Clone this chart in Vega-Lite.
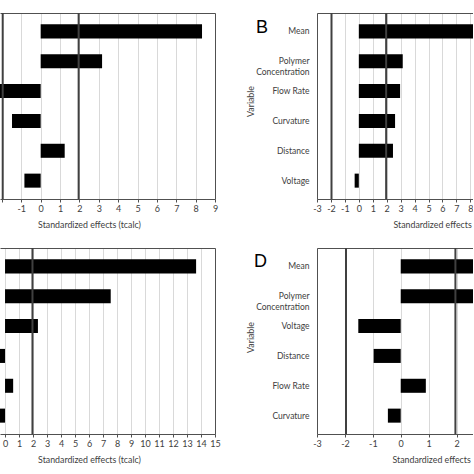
{
  "$schema": "https://vega.github.io/schema/vega-lite/v6.json",
  "background": "white",
  "padding": {"left": 0, "top": 13, "right": 0, "bottom": 2},
  "datasets": {
    "effects": [
      {"panel": "A", "variable": "Mean", "effect": 8.33},
      {"panel": "A", "variable": "Polymer Concentration", "effect": 3.17},
      {"panel": "A", "variable": "Voltage", "effect": -2.4},
      {"panel": "A", "variable": "Distance", "effect": -1.48},
      {"panel": "A", "variable": "Flow Rate", "effect": 1.24},
      {"panel": "A", "variable": "Curvature", "effect": -0.84},
      {"panel": "B", "variable": "Mean", "effect": 9.6},
      {"panel": "B", "variable": "Polymer Concentration", "effect": 3.15},
      {"panel": "B", "variable": "Flow Rate", "effect": 2.96},
      {"panel": "B", "variable": "Curvature", "effect": 2.6},
      {"panel": "B", "variable": "Distance", "effect": 2.45},
      {"panel": "B", "variable": "Voltage", "effect": -0.3},
      {"panel": "C", "variable": "Mean", "effect": 13.65},
      {"panel": "C", "variable": "Polymer Concentration", "effect": 7.55},
      {"panel": "C", "variable": "Voltage", "effect": 2.35},
      {"panel": "C", "variable": "Distance", "effect": -1.1},
      {"panel": "C", "variable": "Flow Rate", "effect": 0.58},
      {"panel": "C", "variable": "Curvature", "effect": -0.9},
      {"panel": "D", "variable": "Mean", "effect": 5.2},
      {"panel": "D", "variable": "Polymer Concentration", "effect": 4.1},
      {"panel": "D", "variable": "Voltage", "effect": -1.52},
      {"panel": "D", "variable": "Distance", "effect": -0.97},
      {"panel": "D", "variable": "Flow Rate", "effect": 0.9},
      {"panel": "D", "variable": "Curvature", "effect": -0.46}
    ],
    "criticalT": [{"t": -1.96}, {"t": 1.96}]
  },
  "columns": 2,
  "bounds": "flush",
  "spacing": {"row": 49, "column": 102},
  "concat": [
    {
      "width": 215,
      "height": 186,
      "layer": [
        {
          "data": {"name": "effects"},
          "transform": [{"filter": "datum.panel === 'A'"}],
          "mark": {"type": "bar", "color": "black", "clip": true},
          "encoding": {
            "y": {"field": "variable", "type": "nominal", "sort": null,
              "scale": {"paddingInner": 0.53, "paddingOuter": 0.38},
              "axis": {"orient": "right", "labels": false, "ticks": false, "title": null}},
            "x": {"field": "effect", "type": "quantitative",
              "scale": {"domain": [-2.1, 9], "nice": false, "zero": false},
              "axis": {"values": [-2, -1, 0, 1, 2, 3, 4, 5, 6, 7, 8, 9],
                "labelExpr": "datum.value < -1.5 ? '' : '' + datum.value",
                "title": "Standardized effects (tcalc)", "titleX": 89}}
          }
        },
        {
          "data": {"name": "criticalT"},
          "mark": {"type": "rule", "color": "#404040", "strokeWidth": 2, "clip": true},
          "encoding": {
            "x": {"field": "t", "type": "quantitative",
              "axis": {"orient": "top", "labels": false, "ticks": false, "grid": false, "title": null}}
          }
        }
      ],
      "resolve": {"axis": {"x": "independent"}}
    },
    {
      "width": 156,
      "height": 186,
      "title": {"text": "B", "orient": "left", "angle": 0, "anchor": "end", "frame": "group", "offset": -34, "baseline": "top", "dy": 6},
      "layer": [
        {
          "data": {"name": "effects"},
          "transform": [{"filter": "datum.panel === 'B'"}],
          "mark": {"type": "bar", "color": "black", "clip": true},
          "encoding": {
            "y": {"field": "variable", "type": "nominal", "sort": null,
              "scale": {"paddingInner": 0.53, "paddingOuter": 0.38},
              "axis": {"orient": "left", "ticks": false, "labelPadding": 8,
                "labelExpr": "datum.label == 'Polymer Concentration' ? ['Polymer', 'Concentration'] : datum.label",
                "title": "Variable", "titleX": -67, "titleY": 88, "titleAngle": -90,
                "titleAlign": "center", "titleBaseline": "middle"}},
            "x": {"field": "effect", "type": "quantitative",
              "scale": {"domain": [-3, 8.19], "nice": false, "zero": false},
              "axis": {"values": [-3, -2, -1, 0, 1, 2, 3, 4, 5, 6, 7, 8],
                "labelExpr": "'' + datum.value",
                "title": "Standardized effects", "titleX": 76, "titleAlign": "left"}}
          }
        },
        {
          "data": {"name": "criticalT"},
          "mark": {"type": "rule", "color": "#404040", "strokeWidth": 2, "clip": true},
          "encoding": {
            "x": {"field": "t", "type": "quantitative",
              "axis": {"orient": "top", "labels": false, "ticks": false, "grid": false, "title": null}}
          }
        }
      ],
      "resolve": {"axis": {"x": "independent"}}
    },
    {
      "width": 215,
      "height": 186,
      "layer": [
        {
          "data": {"name": "effects"},
          "transform": [{"filter": "datum.panel === 'C'"}],
          "mark": {"type": "bar", "color": "black", "clip": true},
          "encoding": {
            "y": {"field": "variable", "type": "nominal", "sort": null,
              "scale": {"paddingInner": 0.53, "paddingOuter": 0.38},
              "axis": {"orient": "right", "labels": false, "ticks": false, "title": null}},
            "x": {"field": "effect", "type": "quantitative",
              "scale": {"domain": [-0.36, 15], "nice": false, "zero": false},
              "axis": {"values": [0, 1, 2, 3, 4, 5, 6, 7, 8, 9, 10, 11, 12, 13, 14, 15],
                "labelExpr": "'' + datum.value",
                "title": "Standardized effects (tcalc)", "titleX": 89}}
          }
        },
        {
          "data": {"name": "criticalT"},
          "mark": {"type": "rule", "color": "#404040", "strokeWidth": 2, "clip": true},
          "encoding": {
            "x": {"field": "t", "type": "quantitative",
              "axis": {"orient": "top", "labels": false, "ticks": false, "grid": false, "title": null}}
          }
        }
      ],
      "resolve": {"axis": {"x": "independent"}}
    },
    {
      "width": 156,
      "height": 186,
      "title": {"text": "D", "orient": "left", "angle": 0, "anchor": "end", "frame": "group", "offset": -34, "baseline": "top", "dy": 5},
      "layer": [
        {
          "data": {"name": "effects"},
          "transform": [{"filter": "datum.panel === 'D'"}],
          "mark": {"type": "bar", "color": "black", "clip": true},
          "encoding": {
            "y": {"field": "variable", "type": "nominal", "sort": null,
              "scale": {"paddingInner": 0.53, "paddingOuter": 0.38},
              "axis": {"orient": "left", "ticks": false, "labelPadding": 8,
                "labelExpr": "datum.label == 'Polymer Concentration' ? ['Polymer', 'Concentration'] : datum.label",
                "title": "Variable", "titleX": -67, "titleY": 89, "titleAngle": -90,
                "titleAlign": "center", "titleBaseline": "middle"}},
            "x": {"field": "effect", "type": "quantitative",
              "scale": {"domain": [-3, 2.59], "nice": false, "zero": false},
              "axis": {"values": [-3, -2, -1, 0, 1, 2],
                "labelExpr": "'' + datum.value",
                "title": "Standardized effects", "titleX": 75, "titleAlign": "left"}}
          }
        },
        {
          "data": {"name": "criticalT"},
          "mark": {"type": "rule", "color": "#404040", "strokeWidth": 2, "clip": true},
          "encoding": {
            "x": {"field": "t", "type": "quantitative",
              "axis": {"orient": "top", "labels": false, "ticks": false, "grid": false, "title": null}}
          }
        }
      ],
      "resolve": {"axis": {"x": "independent"}}
    }
  ],
  "config": {
    "view": {"stroke": null},
    "font": "Lato",
    "axis": {
      "labelFont": "Lato", "labelFontSize": 8.5, "labelColor": "#404040",
      "labelFlush": false, "labelOverlap": false, "labelLineHeight": 11,
      "titleFont": "Lato", "titleFontSize": 8.8, "titleFontWeight": "normal", "titleColor": "#404040",
      "domainColor": "#505050", "domainWidth": 1,
      "tickColor": "#505050", "tickSize": 3,
      "gridColor": "#d9d9d9", "gridWidth": 1
    },
    "axisX": {"labelPadding": 2.5, "titleY": 25.5, "titleBaseline": "middle", "labelFontSize": 9},
    "title": {"font": "Liberation Sans", "fontSize": 18, "fontWeight": "normal", "color": "black"}
  }
}
